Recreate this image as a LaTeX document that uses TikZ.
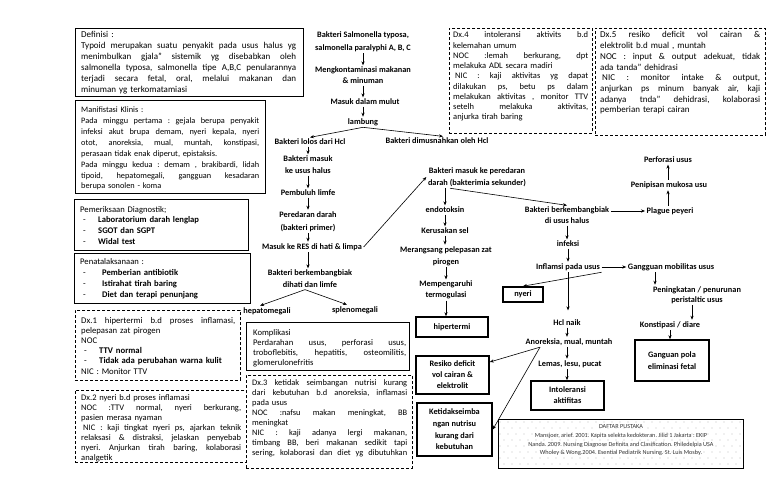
\documentclass[tikz,border=0pt]{standalone}
\usepackage{fontspec}
\setmainfont{Carlito}
\usetikzlibrary{arrows.meta}
\frenchspacing
\newcommand\jl[1]{\hbox to\hsize{\spaceskip=.26em plus 3em minus .04em\relax #1}}
\newcommand\bl[2][15pt]{\hbox{\hspace*{3pt}\makebox[#1][l]{-}#2}}
\newcommand\fsz[2]{\fontsize{#1}{#2}\selectfont}
\tikzset{
  arr/.style={-{Stealth[length=4pt,width=3.2pt]}, line width=0.6pt},
  frame/.style={draw, line width=0.8pt, anchor=north west, inner sep=0pt},
  dframe/.style={frame, dash pattern=on 3pt off 2pt},
  tb/.style={anchor=base west, inner sep=0pt, text width=#1},
  fl/.style={font=\fsz{8.3}{11}\bfseries, align=center, inner sep=1.5pt},
  outbox/.style={draw, line width=1.6pt, align=center, inner sep=0pt, font=\fsz{8.3}{11}\bfseries},
}
\begin{document}
\begin{tikzpicture}[x=1pt,y=-1pt]
\useasboundingbox (0,0) rectangle (768,489);

% ---------- left boxes ----------
\node[frame, minimum width=228pt, minimum height=68pt] (def) at (75,28) {};
\node[tb=215pt, font=\fsz{9}{11}] (deft) at (81,38) {Definisi :\par
\jl{Typoid merupakan suatu penyakit pada usus halus yg}\par
\jl{menimbulkan gjala" sistemik yg disebabkan oleh}\par
\jl{salmonella typosa, salmonella tipe A,B,C penularannya}\par
\jl{terjadi secara fetal, oral, melalui makanan dan}\par
minuman yg terkomatamiasi};

\node[frame, minimum width=190pt, minimum height=93pt] (man) at (75,100) {};
\node[tb=178pt, font=\fsz{8.3}{10.85}] (mant) at (81,113) {Manifistasi Klinis :\par
\jl{Pada minggu pertama : gejala berupa penyakit}\par
\jl{infeksi akut brupa demam, nyeri kepala, nyeri}\par
\jl{otot, anoreksia, mual, muntah, konstipasi,}\par
perasaan tidak enak diperut, epistaksis.\par
\jl{Pada minggu kedua : demam , brakibardi, lidah}\par
\jl{tipoid, hepatomegali, gangguan kesadaran}\par
berupa sonolen - koma};

\node[frame, minimum width=174pt, minimum height=51pt] (pem) at (74,199) {};
\node[tb=160pt, font=\fsz{8.6}{10.7}] (pemt) at (80,212) {Pemeriksaan Diagnostik;\par
\bl{\textbf{Laboratorium darah lenglap}}\par
\bl{\textbf{SGOT dan SGPT}}\par
\bl{\textbf{Widal test}}};

\node[frame, minimum width=176pt, minimum height=50pt] (pen) at (74,253) {};
\node[tb=160pt, font=\fsz{8.6}{11}] (pent) at (80,264) {Penatalaksanaan :\par
\bl[19pt]{\textbf{Pemberian antibiotik}}\par
\bl[19pt]{\textbf{Istirahat tirah baring}}\par
\bl[19pt]{\textbf{Diet dan terapi penunjang}}};

\node[dframe, minimum width=165pt, minimum height=70pt] (dx1) at (75,310) {};
\node[tb=154pt, font=\fsz{8.7}{10.2}] (dx1t) at (81,323) {\jl{Dx.1 hipertermi b.d proses inflamasi,}\par
pelepasan zat pirogen\par
NOC\par
\bl{\textbf{TTV normal}}\par
\bl{\textbf{Tidak ada perubahan warna kulit}}\par
NIC : Monitor TTV};

\node[dframe, minimum width=171pt, minimum height=72pt] (dx2) at (75,390) {};
\node[tb=160pt, font=\fsz{8.5}{10}] (dx2t) at (81,400) {Dx.2 nyeri b.d proses inflamasi\par
\jl{NOC :TTV normal, nyeri berkurang,}\par
pasien merasa nyaman\par
\jl{\hspace*{2pt}NIC : kaji tingkat nyeri ps, ajarkan teknik}\par
\jl{relaksasi \& distraksi, jelaskan penyebab}\par
\jl{nyeri. Anjurkan tirah baring, kolaborasi}\par
analgetik};

\node[frame, minimum width=163pt, minimum height=48pt] (kom) at (246,322) {};
\node[tb=153pt, font=\fsz{8.6}{10.3}] (komt) at (253,335) {Komplikasi\par
\jl{Perdarahan usus, perforasi usus,}\par
\jl{troboflebitis, hepatitis, osteomilitis,}\par
glomerulonefritis};

\node[dframe, minimum width=166pt, minimum height=93pt] (dx3) at (246,375) {};
\node[tb=155pt, font=\fsz{8.4}{10.1}] (dx3t) at (252,385) {\jl{Dx.3 ketidak seimbangan nutrisi kurang}\par
\jl{dari kebutuhan b.d anoreksia, inflamasi}\par
pada usus\par
\jl{NOC :nafsu makan meningkat, BB}\par
meningkat\par
\jl{NIC : kaji adanya lergi makanan,}\par
\jl{timbang BB, beri makanan sedikit tapi}\par
\jl{sering, kolaborasi dan diet yg dibutuhkan}};

% ---------- top right boxes ----------
\node[dframe, minimum width=143pt, minimum height=105pt] (dx4) at (449,28) {};
\node[tb=135pt, font=\fsz{8.5}{10.25}] (dx4t) at (453,38) {\jl{Dx.4 intoleransi aktivits b.d}\par
kelemahan umum\par
\jl{NOC :lemah berkurang, dpt}\par
melakuka ADL secara madiri\par
\jl{\hspace*{2pt}NIC : kaji aktivitas yg dapat}\par
\jl{dilakukan ps, betu ps dalam}\par
\jl{melakukan aktivitas , monitor TTV}\par
\jl{setelh melakuka aktivitas,}\par
anjurka tirah baring};

\node[dframe, minimum width=170pt, minimum height=107pt] (dx5) at (595,28) {};
\node[tb=160pt, font=\fsz{9}{10.7}] (dx5t) at (600,38) {\jl{Dx.5 resiko deficit vol cairan \&}\par
elektrolit b.d mual , muntah\par
\jl{NOC : input \& output adekuat, tidak}\par
ada tanda" dehidrasi\par
\jl{\hspace*{2pt}NIC : monitor intake \& output,}\par
\jl{anjurkan ps minum banyak air, kaji}\par
\jl{adanya tnda" dehidrasi, kolaborasi}\par
pemberian terapi cairan};

% ---------- central flow ----------
\node[fl, font=\fsz{8.3}{13}\bfseries] (s1) at (363,41.5) {Bakteri Salmonella typosa,\\salmonella paralyphi A, B, C};
\node[fl] (s2) at (363,75.5) {Mengkontaminasi makanan\\\& minuman};
\node[fl] (s3) at (365,102) {Masuk dalam mulut};
\node[fl] (s4) at (363,122) {lambung};
\node[fl] (s5) at (310,142) {Bakteri lolos dari Hcl};
\node[fl] (s6) at (437,141) {Bakteri dimusnahkan oleh Hcl};
\node[fl, font=\fsz{8.3}{12}\bfseries] (s7) at (308,165) {Bakteri masuk\\ke usus halus};
\node[fl] (s8) at (308,193) {Pembuluh limfe};
\node[fl, font=\fsz{8.3}{13}\bfseries] (s9) at (308,221.5) {Peredaran darah\\(bakteri primer)};
\node[fl] (s10) at (312,247) {Masuk ke RES di hati \& limpa};
\node[fl, font=\fsz{8.3}{12}\bfseries] (s11) at (310,279) {Bakteri berkembangbiak\\dihati dan limfe};
\node[fl] (s12) at (267,311) {hepatomegali};
\node[fl] (s13) at (355,310) {splenomegali};

\node[fl, font=\fsz{8.3}{12}\bfseries] (m1) at (477,177) {Bakteri masuk ke peredaran\\darah (bakterimia sekunder)};
\node[fl] (m2) at (445,210) {endotoksin};
\node[fl] (m3) at (445,231) {Kerusakan sel};
\node[fl, font=\fsz{8.3}{12}\bfseries] (m4) at (446,256) {Merangsang pelepasan zat\\pirogen};
\node[fl, font=\fsz{8.3}{10.5}\bfseries] (m5) at (446,290) {Mempengaruhi\\termogulasi};
\node[outbox, minimum width=72pt, minimum height=20pt] (hip) at (452,327) {hipertermi};

\node[fl] (r1) at (567,215.5) {Bakteri berkembangbiak\\di usus halus};
\node[fl] (r2) at (568,244) {infeksi};
\node[fl] (r3) at (568,267) {Inflamsi pada usus};
\node[outbox, minimum width=40pt, minimum height=15pt] (nyeri) at (523,294.5) {nyeri};
\node[fl] (r4) at (567,323) {Hcl naik};
\node[fl] (r5) at (569,342) {Anoreksia, mual, muntah};
\node[fl] (r6) at (570,364) {Lemas, lesu, pucat};
\node[outbox, minimum width=73pt, minimum height=29pt] (intol) at (567.5,395.5) {Intoleransi\\aktifitas};
\node[outbox, minimum width=73pt, minimum height=38pt] (resiko) at (452.5,375) {Resiko deficit\\vol cairan \&\\elektrolit};
\node[outbox, minimum width=75pt, minimum height=53pt, font=\fsz{8.3}{11.7}\bfseries] (ketidak) at (454.5,429.5) {Ketidakseimba\\ngan nutrisu\\kurang dari\\kebutuhan};

\node[fl] (f1) at (668,160) {Perforasi usus};
\node[fl] (f2) at (669,185) {Penipisan mukosa usu};
\node[fl] (f3) at (670,211) {Plague peyeri};
\node[fl] (f4) at (671,267) {Gangguan mobilitas usus};
\node[fl, font=\fsz{8.3}{10}\bfseries] (f5) at (697,295) {Peningkatan / penurunan\\peristaltic usus};
\node[fl] (f6) at (670,325) {Konstipasi / diare};
\node[outbox, minimum width=74pt, minimum height=41pt, font=\fsz{8.3}{12}\bfseries] (gang) at (672,360.5) {Ganguan pola\\eliminasi fetal};

% ---------- references box ----------
\node[frame, minimum width=245pt, minimum height=49pt] (pus) at (498,419) {};
\begin{scope}
\clip (pus.north west) rectangle (pus.south east);
\foreach \j in {0,...,8} {
  \foreach \i in {0,...,31} {
    \fill[black!70] ({500+8*\i+4*mod(\j,2)},{422+6*\j}) circle (0.45pt);
  }
}
\end{scope}
\node[align=center, inner sep=0pt, font=\fsz{6.2}{8.67}, text=black!80] (pust) at (621,440.5) {DAFTAR PUSTAKA\\
Mansjoer, arief. 2001. Kapita selekta kedokteran. Jilid 1 Jakarta : EKIP\\
Nanda. 2009. Nursing Diagnose Definita and Clasification. Philedelpia USA\\
Wholey \& Wong.2004. Esential Pediatrik Nursing. St. Luis Mosby.};

% ---------- connectors ----------
\draw[arr] (s1.south) -- (s2.north);
\draw[arr] (s2.south) -- (s2.south |- s3.north);
\draw[arr] (s3.south -| s4) -- (s4.north);
\draw[arr] (s4.south) -- (s5.north);
\draw[arr] (s4.south) -- ([xshift=6pt]s6.north);
\draw[arr] ([xshift=-2pt]s5.south) -- (s7.north);
\draw[arr] (s7.south) -- (s8.north);
\draw[arr] (s8.south) -- (s9.north);
\draw[arr] (s9.south) -- (s9.south |- s10.north);
\draw[arr] (s9.south |- s10.south) -- (s9.south |- s11.north);
\draw[arr] ([xshift=-5pt]s11.south) -- ([xshift=-7pt]s12.north);
\draw[arr] ([xshift=-5pt]s11.south) -- ([xshift=-8pt]s13.north);
\draw[arr] (s10.east) -- (m1.west);
\draw[arr] (m1.south -| m2) -- (m2.north);
\draw[arr] ([xshift=-27pt]m1.south) -- (r1.north);
\draw[arr] (m2.south) -- (m3.north);
\draw[arr] (m3.south) -- (m3.south |- m4.north);
\draw[arr] (m4.south) -- (m5.north);
\draw[arr] (m5.south) -- (m5.south |- hip.north);
\draw[arr] (r1.south) -- (r1.south |- r2.north);
\draw[arr] (r2.south) -- (r3.north);
\draw[arr] (r3.south) -- ([yshift=8pt]r3.south |- r4.north);
\draw[arr] (r3.south east) -- (nyeri.north);
\draw[arr] (r3.east) -- (f4.west);
\draw[arr] (r4.south) -- (r4.south |- r5.north);
\draw[arr] (r5.south -| r4) -- (r4 |- r6.north);
\draw[arr] (r6.south -| r4) -- (r4 |- intol.north);
\draw[arr] ([xshift=-29pt]r5.south) -- ([yshift=13pt]resiko.east);
\draw[arr] ([xshift=-29pt]r5.south) -- (ketidak.east);
\draw[arr] (r1.east |- f3) -- (f3.west);
\draw[arr] (f3.north -| f1) -- (f1 |- f2.south);
\draw[arr] (f2.north -| f1) -- (f1.south);
\draw[arr] ([xshift=-16pt]f4.south) -- ([xshift=-16pt]f4.south |- f5.north);
\draw[arr] ([xshift=-5pt]f5.south) -- ([xshift=-5pt]f5.south |- f6.north);
\draw[arr] (f6.south) -- (f6.south |- gang.north);
\end{tikzpicture}
\end{document}
